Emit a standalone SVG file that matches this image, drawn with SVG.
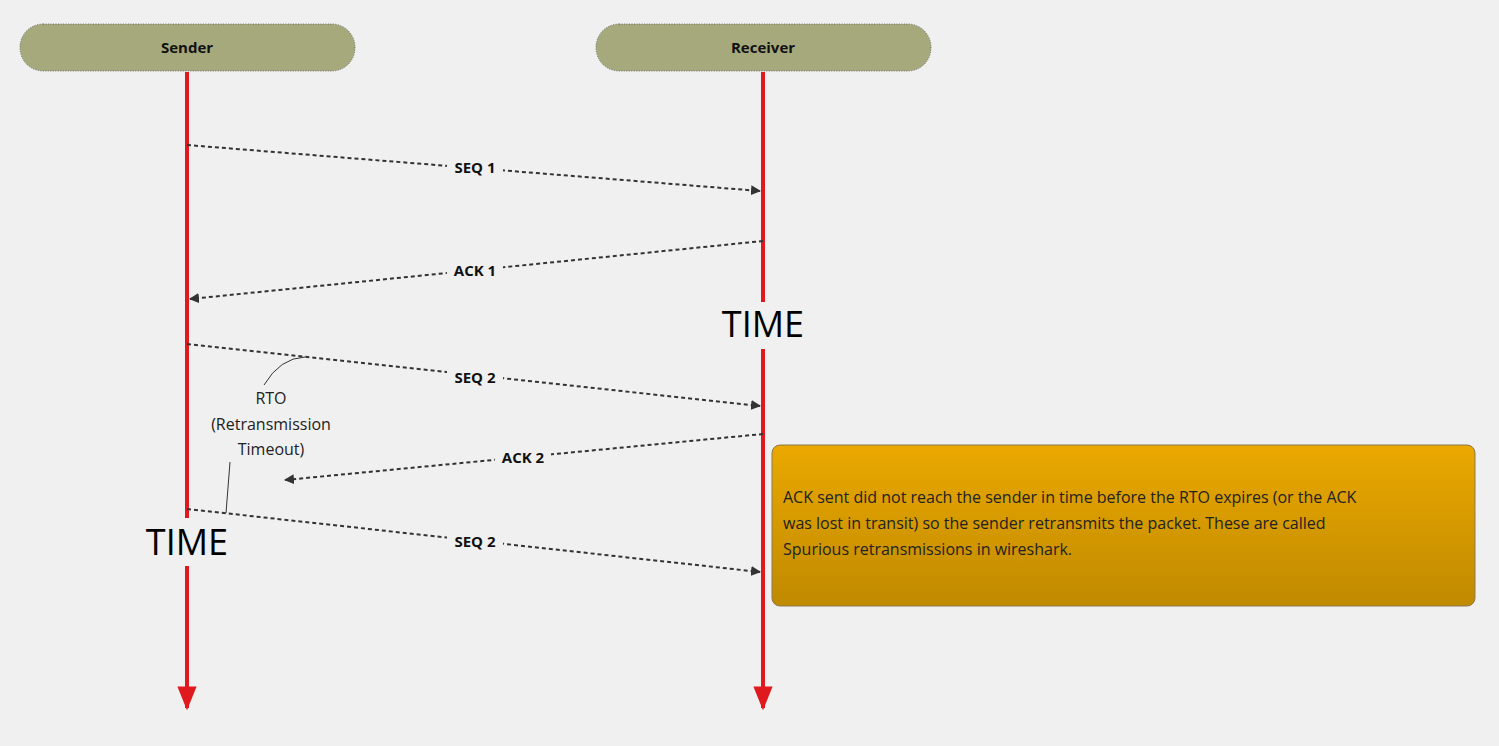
<svg xmlns="http://www.w3.org/2000/svg" width="1499" height="746" viewBox="0 0 1499 746">
<style>
.hdr{fill:#a6a97c;stroke:#555;stroke-width:0.8;stroke-dasharray:1 1.5}
.ht{font:bold 15px "Open Sans","Liberation Sans",sans-serif;fill:#111;text-anchor:middle}
.life{stroke:#e0191e;stroke-width:4}
.msg{stroke:#333;stroke-width:2;stroke-dasharray:4 3;fill:none}
.ml{font:bold 15px "Open Sans","Liberation Sans",sans-serif;fill:#111;text-anchor:middle}
.time{font:36px "Open Sans","Liberation Sans",sans-serif;fill:#000;text-anchor:middle}
.note{font:16px "Open Sans","Liberation Sans",sans-serif;fill:#222}
</style>
<defs>
<marker id="a" viewBox="0 0 10 10" refX="9" refY="5" markerWidth="10" markerHeight="10" markerUnits="userSpaceOnUse" orient="auto"><path d="M0,0L10,5L0,10z" fill="#333"/></marker>
<marker id="r" viewBox="0 0 10 10" refX="9" refY="5" markerWidth="24" markerHeight="24" markerUnits="userSpaceOnUse" orient="auto"><path d="M0,1L10,5L0,9z" fill="#e0191e"/></marker>
</defs>
<rect width="1499" height="746" fill="#f0f0f0"/>
<g id="sender">
<rect class="hdr" x="20" y="24" width="335" height="47" rx="23"/>
<text class="ht" x="187" y="53">Sender</text>
<line class="life" x1="187" y1="72" x2="187" y2="518"/>
<line class="life" x1="187" y1="566" x2="187" y2="708" marker-end="url(#r)"/>
<text class="time" x="187" y="555">TIME</text>
</g>
<g id="receiver">
<rect class="hdr" x="596" y="24" width="335" height="47" rx="23"/>
<text class="ht" x="763" y="53">Receiver</text>
<line class="life" x1="763" y1="72" x2="763" y2="302"/>
<line class="life" x1="763" y1="349" x2="763" y2="708" marker-end="url(#r)"/>
<text class="time" x="763" y="337">TIME</text>
</g>
<g id="connectors">
<line class="msg" x1="187" y1="145" x2="760" y2="191" marker-end="url(#a)"/>
<line class="msg" x1="763" y1="241" x2="190" y2="299" marker-end="url(#a)"/>
<line class="msg" x1="187" y1="344" x2="760" y2="406" marker-end="url(#a)"/>
<line class="msg" x1="763" y1="434" x2="285" y2="480" marker-end="url(#a)"/>
<line class="msg" x1="187" y1="509" x2="760" y2="572" marker-end="url(#a)"/>
<path d="M264,385 Q280,358 305,357" stroke="#333" stroke-width="1" fill="none"/>
<path d="M230,462 L226,513" stroke="#333" stroke-width="1" fill="none"/>
</g>
<g id="labels">
<rect x="447" y="157" width="56" height="20" fill="#f0f0f0"/>
<text class="ml" x="475" y="173">SEQ 1</text>
<rect x="447" y="260" width="56" height="20" fill="#f0f0f0"/>
<text class="ml" x="475" y="276">ACK 1</text>
<rect x="447" y="367" width="56" height="20" fill="#f0f0f0"/>
<text class="ml" x="475" y="383">SEQ 2</text>
<rect x="495" y="447" width="56" height="20" fill="#f0f0f0"/>
<text class="ml" x="523" y="463">ACK 2</text>
<rect x="447" y="531" width="56" height="20" fill="#f0f0f0"/>
<text class="ml" x="475" y="547">SEQ 2</text>
</g>
<g id="rto">
<text class="note" x="271" y="404" text-anchor="middle">RTO</text>
<text class="note" x="271" y="430" text-anchor="middle">(Retransmission</text>
<text class="note" x="271" y="455" text-anchor="middle">Timeout)</text>
</g>
<g id="note">
<defs><linearGradient id="g" x1="0" y1="0" x2="0" y2="1"><stop offset="0" stop-color="#eaa800"/><stop offset="1" stop-color="#c08a00"/></linearGradient></defs>
<rect x="772" y="445" width="703" height="161" rx="8" fill="url(#g)" stroke="#8a7a50" stroke-width="1"/>
<text class="note" x="783" y="503">ACK sent did not reach the sender in time before the RTO expires  (or the ACK</text>
<text class="note" x="783" y="529">was lost in transit) so the sender retransmits the packet. These are called</text>
<text class="note" x="783" y="555">Spurious retransmissions in wireshark.</text>
</g>
</svg>
